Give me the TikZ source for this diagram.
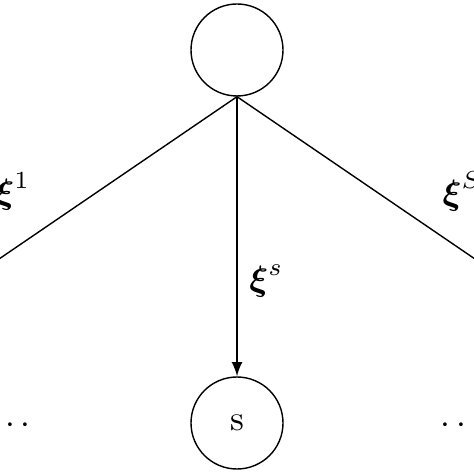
\documentclass[tikz,border=0pt]{standalone}
\usepackage{amsmath}
\begin{document}
\begin{tikzpicture}[font=\normalsize]
  \tikzset{state/.style={draw, circle, minimum size=0.92cm, inner sep=0pt}}
  % Frame of the visible part
  \useasboundingbox (0,0) rectangle (4.74,4.74);
  \clip (0,0) rectangle (4.74,4.74);

  % Root and the branch s
  \node[state] (root) at (2.37,4.24) {};
  \node[state] (leaf) at (2.37,0.51) {s};
  \coordinate (lft) at (-1.74,0.97); % left branch, off the frame
  \coordinate (rgt) at (6.48,0.97); % right branch, off the frame

  % Branches
  \draw (root.south) -- (lft) node[pos=0.49, above left, xshift=0.7mm, yshift=1.1mm] (lab1) {$\boldsymbol{\xi}^1$};
  \draw (root.south) -- (rgt) node[pos=0.47, above right, yshift=0.5mm] (labS) {$\boldsymbol{\xi}^S$};
  \draw[-latex] (root.south) -- (leaf.north) node[pos=0.66, right] (labs) {$\boldsymbol{\xi}^s$};

  % Omitted branches
  \node (dotsl) at (0.13,0.48) {$\cdots$};
  \node (dotsr) at (4.64,0.48) {$\cdots$};
\end{tikzpicture}
\end{document}
